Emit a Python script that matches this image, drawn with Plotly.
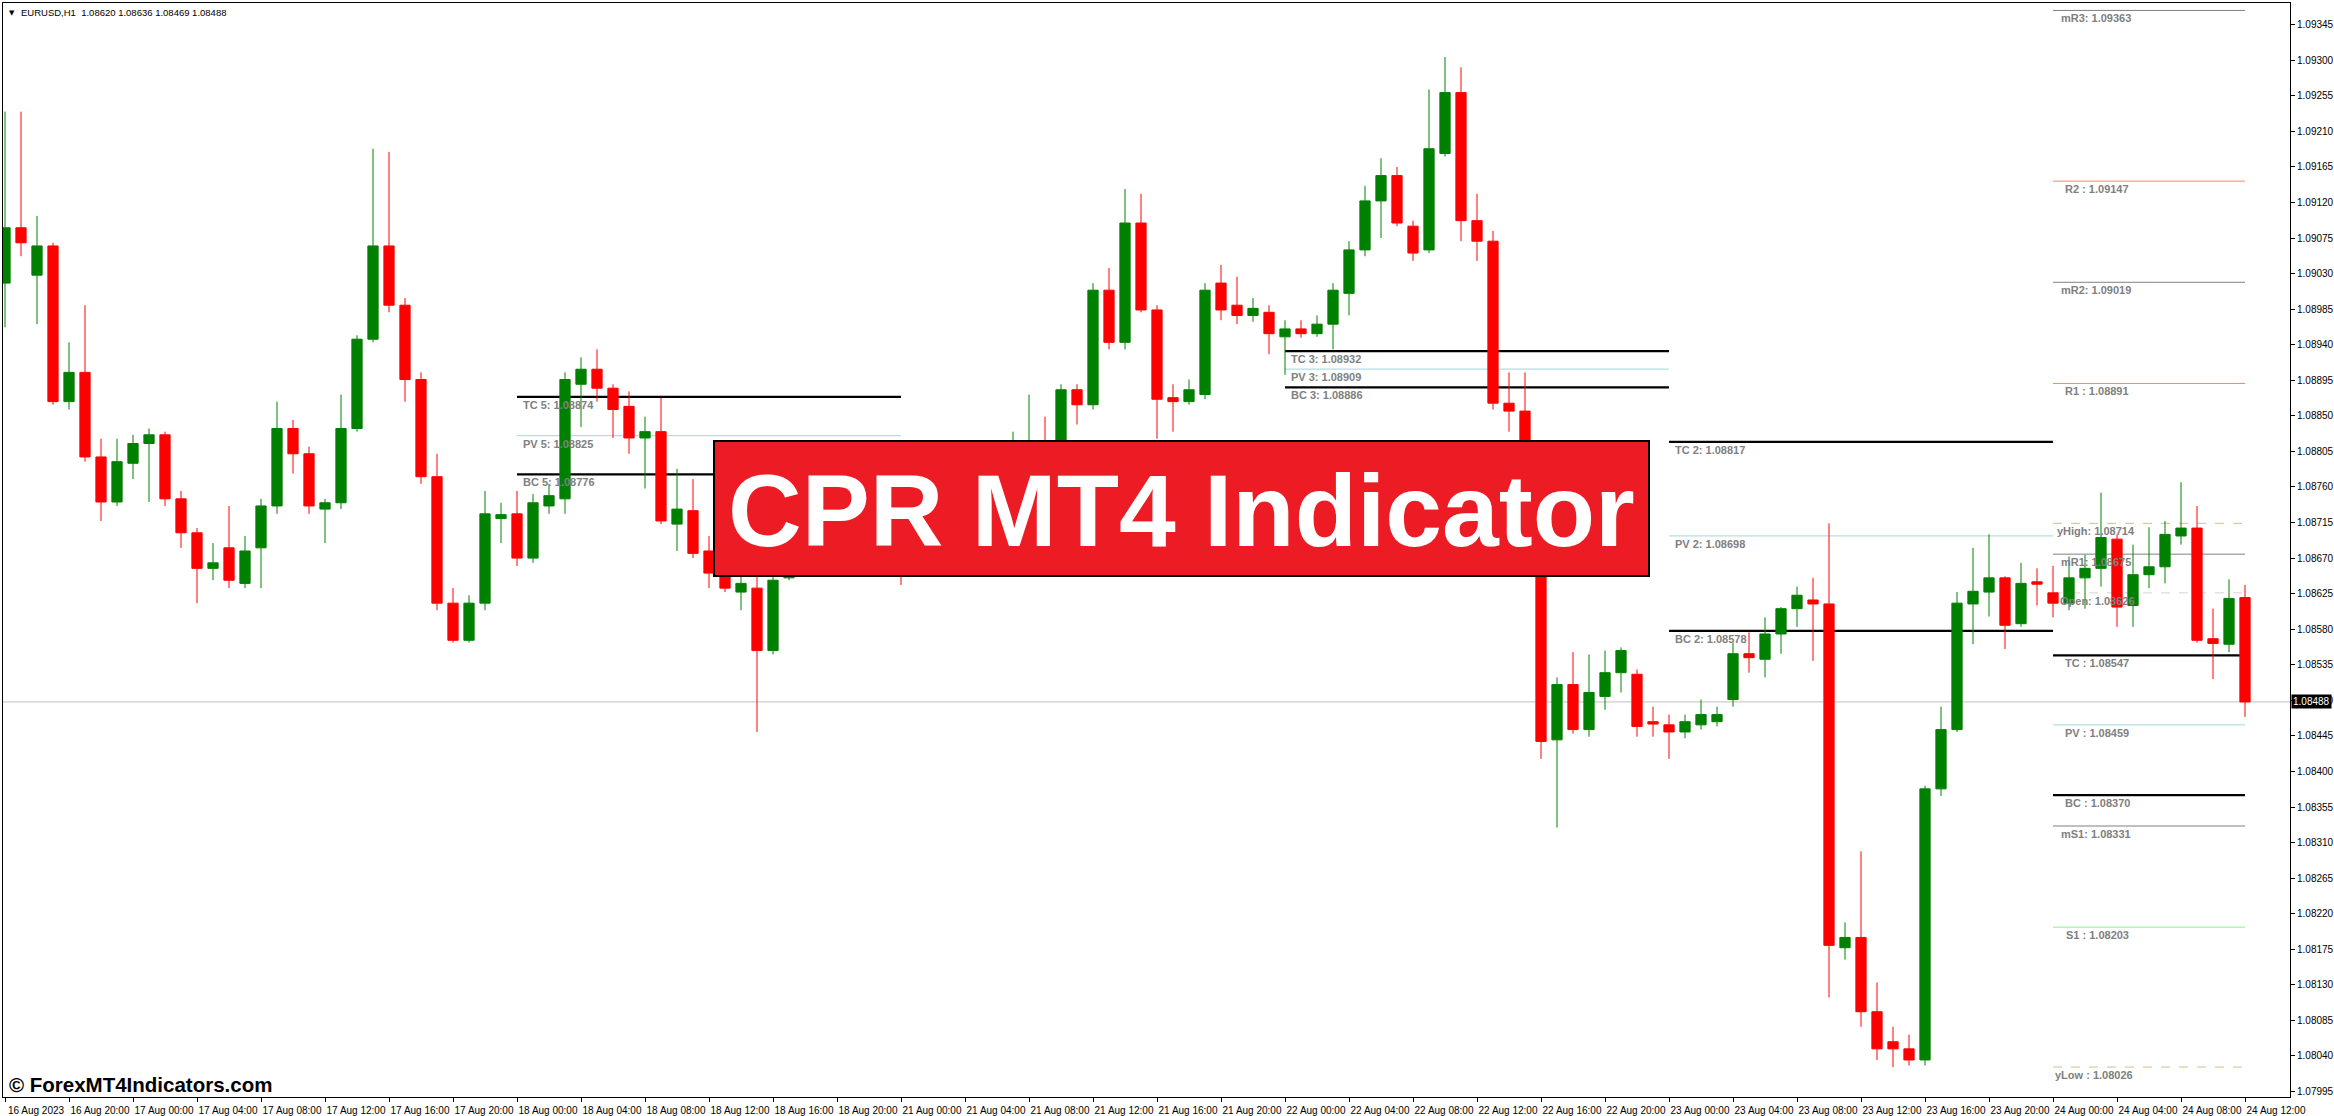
import plotly.graph_objects as go

# ---------------- data ----------------
symbol = "EURUSD,H1"

time_labels = ["16 Aug 2023", "16 Aug 20:00", "17 Aug 00:00", "17 Aug 04:00", "17 Aug 08:00",
               "17 Aug 12:00", "17 Aug 16:00", "17 Aug 20:00", "18 Aug 00:00", "18 Aug 04:00",
               "18 Aug 08:00", "18 Aug 12:00", "18 Aug 16:00", "18 Aug 20:00", "21 Aug 00:00",
               "21 Aug 04:00", "21 Aug 08:00", "21 Aug 12:00", "21 Aug 16:00", "21 Aug 20:00",
               "22 Aug 00:00", "22 Aug 04:00", "22 Aug 08:00", "22 Aug 12:00", "22 Aug 16:00",
               "22 Aug 20:00", "23 Aug 00:00", "23 Aug 04:00", "23 Aug 08:00", "23 Aug 12:00",
               "23 Aug 16:00", "23 Aug 20:00", "24 Aug 00:00", "24 Aug 04:00", "24 Aug 08:00",
               "24 Aug 12:00"]

opens = [
    1.09018, 1.09088, 1.09028, 1.09065, 1.08868, 1.08905, 1.08798, 1.08741, 1.08790, 1.08815,
    1.08826, 1.08745, 1.08702, 1.08657, 1.08683, 1.08638, 1.08683, 1.08736, 1.08834, 1.08802,
    1.08732, 1.08740, 1.08834, 1.08947, 1.09065, 1.08990, 1.08896, 1.08773, 1.08613, 1.08566,
    1.08613, 1.08720, 1.08726, 1.08670, 1.08736, 1.08745, 1.08890, 1.08909, 1.08885, 1.08862,
    1.08822, 1.08830, 1.08713, 1.08730, 1.08679, 1.08651, 1.08627, 1.08632, 1.08553, 1.08645,
    1.08689, 1.08717, 1.08698, 1.08736, 1.08726, 1.08755, 1.08740, 1.08708, 1.08726, 1.08755,
    1.08745, 1.08773, 1.08783, 1.08777, 1.08802, 1.08811, 1.08811, 1.08883, 1.08864, 1.09009,
    1.08943, 1.09094, 1.08984, 1.08873, 1.08868, 1.08877, 1.09018, 1.08990, 1.08977, 1.08981,
    1.08950, 1.08960, 1.08954, 1.08966, 1.09005, 1.09060, 1.09122, 1.09154, 1.09090, 1.09060,
    1.09182, 1.09259, 1.09097, 1.09071, 1.08866, 1.08856, 1.08755, 1.08440, 1.08510, 1.08453,
    1.08495, 1.08525, 1.08523, 1.08463, 1.08459, 1.08450, 1.08459, 1.08463, 1.08491, 1.08549,
    1.08542, 1.08574, 1.08606, 1.08617, 1.08612, 1.08177, 1.08190, 1.08096, 1.08058, 1.08049,
    1.08035, 1.08378, 1.08453, 1.08612, 1.08627, 1.08645, 1.08587, 1.08640, 1.08626, 1.08613,
    1.08645, 1.08657, 1.08694, 1.08610, 1.08649, 1.08659, 1.08698, 1.08708, 1.08568, 1.08561,
    1.08620]

highs = [
    1.09235, 1.09235, 1.09103, 1.09069, 1.08943, 1.08990, 1.08821, 1.08821, 1.08826, 1.08834,
    1.08830, 1.08755, 1.08708, 1.08689, 1.08736, 1.08698, 1.08745, 1.08868, 1.08845, 1.08811,
    1.08745, 1.08877, 1.08952, 1.09188, 1.09184, 1.08999, 1.08905, 1.08802, 1.08632, 1.08623,
    1.08755, 1.08740, 1.08755, 1.08751, 1.08764, 1.08905, 1.08924, 1.08934, 1.08890, 1.08881,
    1.08849, 1.08873, 1.08783, 1.08770, 1.08698, 1.08660, 1.08651, 1.08670, 1.08651, 1.08708,
    1.08736, 1.08745, 1.08755, 1.08764, 1.08777, 1.08773, 1.08755, 1.08745, 1.08773, 1.08783,
    1.08802, 1.08811, 1.08807, 1.08830, 1.08877, 1.08849, 1.08890, 1.08890, 1.09018, 1.09037,
    1.09137, 1.09131, 1.08990, 1.08890, 1.08896, 1.09018, 1.09041, 1.09026, 1.08999, 1.08990,
    1.08971, 1.08971, 1.08977, 1.09018, 1.09071, 1.09141, 1.09176, 1.09165, 1.09097, 1.09263,
    1.09304, 1.09291, 1.09131, 1.09084, 1.08905, 1.08905, 1.08773, 1.08519, 1.08551, 1.08548,
    1.08553, 1.08557, 1.08529, 1.08482, 1.08472, 1.08472, 1.08491, 1.08482, 1.08563, 1.08576,
    1.08595, 1.08608, 1.08634, 1.08645, 1.08714, 1.08209, 1.08299, 1.08133, 1.08077, 1.08067,
    1.08382, 1.08482, 1.08627, 1.08683, 1.08700, 1.08647, 1.08664, 1.08657, 1.08660, 1.08672,
    1.08674, 1.08753, 1.08700, 1.08687, 1.08709, 1.08717, 1.08766, 1.08736, 1.08606, 1.08643,
    1.08636]

lows = [
    1.08962, 1.09052, 1.08966, 1.08864, 1.08858, 1.08792, 1.08717, 1.08736, 1.08770, 1.08741,
    1.08736, 1.08683, 1.08613, 1.08642, 1.08632, 1.08632, 1.08632, 1.08726, 1.08777, 1.08726,
    1.08689, 1.08732, 1.08830, 1.08943, 1.08981, 1.08868, 1.08764, 1.08604, 1.08563, 1.08563,
    1.08604, 1.08689, 1.08660, 1.08664, 1.08726, 1.08726, 1.08836, 1.08868, 1.08822, 1.08802,
    1.08758, 1.08713, 1.08679, 1.08670, 1.08632, 1.08627, 1.08604, 1.08450, 1.08548, 1.08642,
    1.08676, 1.08683, 1.08689, 1.08708, 1.08717, 1.08726, 1.08636, 1.08698, 1.08717, 1.08726,
    1.08736, 1.08755, 1.08758, 1.08770, 1.08783, 1.08792, 1.08802, 1.08839, 1.08858, 1.08934,
    1.08934, 1.08981, 1.08821, 1.08830, 1.08864, 1.08871, 1.08971, 1.08966, 1.08969, 1.08928,
    1.08902, 1.08949, 1.08950, 1.08934, 1.08977, 1.09052, 1.09075, 1.09090, 1.09046, 1.09056,
    1.09178, 1.09071, 1.09046, 1.08858, 1.08830, 1.08745, 1.08416, 1.08329, 1.08448, 1.08444,
    1.08478, 1.08500, 1.08444, 1.08444, 1.08416, 1.08442, 1.08453, 1.08457, 1.08482, 1.08525,
    1.08519, 1.08549, 1.08583, 1.08540, 1.08114, 1.08162, 1.08077, 1.08035, 1.08026, 1.08028,
    1.08028, 1.08369, 1.08450, 1.08561, 1.08596, 1.08555, 1.08583, 1.08610, 1.08595, 1.08604,
    1.08606, 1.08634, 1.08583, 1.08583, 1.08632, 1.08638, 1.08687, 1.08563, 1.08517, 1.08551,
    1.08469]

closes = [
    1.09088, 1.09069, 1.09065, 1.08868, 1.08905, 1.08798, 1.08741, 1.08792, 1.08815, 1.08826,
    1.08745, 1.08702, 1.08657, 1.08664, 1.08642, 1.08679, 1.08736, 1.08834, 1.08802, 1.08736,
    1.08740, 1.08834, 1.08947, 1.09065, 1.08990, 1.08896, 1.08773, 1.08613, 1.08566, 1.08613,
    1.08726, 1.08725, 1.08670, 1.08740, 1.08749, 1.08896, 1.08909, 1.08885, 1.08858, 1.08822,
    1.08830, 1.08717, 1.08732, 1.08676, 1.08651, 1.08632, 1.08638, 1.08553, 1.08642, 1.08689,
    1.08717, 1.08698, 1.08736, 1.08726, 1.08755, 1.08736, 1.08708, 1.08726, 1.08755, 1.08745,
    1.08773, 1.08783, 1.08777, 1.08802, 1.08811, 1.08802, 1.08883, 1.08864, 1.09009, 1.08943,
    1.09094, 1.08984, 1.08871, 1.08868, 1.08883, 1.09009, 1.08984, 1.08977, 1.08986, 1.08954,
    1.08960, 1.08954, 1.08966, 1.09009, 1.09060, 1.09122, 1.09154, 1.09094, 1.09056, 1.09188,
    1.09259, 1.09097, 1.09071, 1.08866, 1.08856, 1.08755, 1.08438, 1.08510, 1.08453, 1.08500,
    1.08525, 1.08553, 1.08457, 1.08460, 1.08450, 1.08463, 1.08472, 1.08472, 1.08549, 1.08544,
    1.08574, 1.08606, 1.08623, 1.08612, 1.08180, 1.08190, 1.08096, 1.08049, 1.08049, 1.08035,
    1.08378, 1.08453, 1.08613, 1.08628, 1.08645, 1.08585, 1.08638, 1.08637, 1.08613, 1.08645,
    1.08657, 1.08696, 1.08608, 1.08649, 1.08659, 1.08700, 1.08708, 1.08566, 1.08562, 1.08619,
    1.08488]

# daily central pivot ranges (day tag, first bar, last bar)
cpr_tags = ["5", "3", "2", ""]
cpr_start = [32, 80, 104, 128]
cpr_end = [56, 104, 128, 140]
cpr_tc = [1.08874, 1.08932, 1.08817, 1.08547]
cpr_pv = [1.08825, 1.08909, 1.08698, 1.08459]
cpr_bc = [1.08776, 1.08886, 1.08578, 1.08370]

# other levels of the current day
lvl_names = ["mR3", "R2", "mR2", "R1", "yHigh", "mR1", "Open", "mS1", "S1", "yLow"]
lvl_prefix = ["mR3: ", "R2 : ", "mR2: ", "R1 : ", "yHigh: ", "mR1: ", "Open: ", "mS1: ", "S1 : ", "yLow : "]
lvl_values = [1.09363, 1.09147, 1.09019, 1.08891, 1.08714, 1.08675, 1.08626, 1.08331, 1.08203, 1.08026]

y_tick_start, y_tick_step, y_tick_count = 1.07995, 0.00045, 31

# ---------------- styles ----------------
W, H = 2334, 1116
ML, MR, MT, MB = 3, 44, 3, 19
PLOT_W = W - ML - MR
PLOT_H = H - MT - MB
BAR_PX = 16.0
X0_PX = 5.0  # centre of first bar, in page px
XR = [(ML - X0_PX) / BAR_PX, (W - MR - X0_PX) / BAR_PX]
YR = [1.079881, 1.093724]

AX_FONT = dict(family="Tahoma, 'Liberation Sans', Arial, sans-serif", size=10, color="black")
LBL_FONT = dict(family="'Liberation Sans', Arial, sans-serif", size=11, color="#808080", weight="bold")

lvl_style = {
    "mR3": dict(color="#808080", width=1, dash="solid", dx=6),
    "R2": dict(color="#fa8072", width=1, dash="solid", dx=10),
    "mR2": dict(color="#808080", width=1, dash="solid", dx=6),
    "R1": dict(color="#fa8072", width=1, dash="solid", dx=10),
    "yHigh": dict(color="#deb887", width=1, dash="dash", dx=2),
    "mR1": dict(color="#808080", width=1, dash="solid", dx=6),
    "Open": dict(color="#d3d3d3", width=1, dash="dash", dx=5),
    "mS1": dict(color="#808080", width=1, dash="solid", dx=6),
    "S1": dict(color="#90ee90", width=1, dash="solid", dx=11),
    "yLow": dict(color="#deb887", width=1, dash="dash", dx=0),
}

fig = go.Figure()

fig.add_trace(go.Candlestick(
    x=list(range(len(opens))), open=opens, high=highs, low=lows, close=closes,
    increasing=dict(line=dict(color="#008000", width=1), fillcolor="#008000"),
    decreasing=dict(line=dict(color="#ff0000", width=1), fillcolor="#ff0000"),
    whiskerwidth=0, showlegend=False, hoverinfo="skip",
))

shapes = []
annots = []

# current price line
shapes.append(dict(type="line", xref="paper", yref="y", x0=0, x1=1, y0=closes[-1], y1=closes[-1],
                   line=dict(color="#c0c0c0", width=1), layer="below"))

# CPR lines
for tag, s, e, tc, pv, bc in zip(cpr_tags, cpr_start, cpr_end, cpr_tc, cpr_pv, cpr_bc):
    for name, val in (("TC", tc), ("PV", pv), ("BC", bc)):
        if name == "PV":
            ln = dict(color="#b0e0e6", width=1.2)
        else:
            ln = dict(color="black", width=2.2)
        shapes.append(dict(type="line", xref="x", yref="y", x0=s, x1=e, y0=val, y1=val,
                           line=ln, layer="below"))
        if tag:
            txt = f"{name} {tag}: {val:.5f}"
            dx = 4
        else:
            txt = f"{name} : {val:.5f}"
            dx = 10
        annots.append(dict(xref="x", yref="y", x=s, y=val, xanchor="left", yanchor="top",
                           xshift=dx, yshift=0, text=txt, showarrow=False, font=LBL_FONT))

# current day extra levels
s0, e0 = cpr_start[-1], cpr_end[-1]
for name, pre, val in zip(lvl_names, lvl_prefix, lvl_values):
    st = lvl_style[name]
    shapes.append(dict(type="line", xref="x", yref="y", x0=s0, x1=e0, y0=val, y1=val,
                       line=dict(color=st["color"], width=st["width"], dash=st["dash"]), layer="below"))
    annots.append(dict(xref="x", yref="y", x=s0, y=val, xanchor="left", yanchor="top",
                       xshift=st["dx"], text=f"{pre}{val:.5f}", showarrow=False, font=LBL_FONT))

# current price box on the price scale
annots.append(dict(xref="paper", yref="y", x=1, y=closes[-1], xanchor="left", yanchor="middle",
                   xshift=1, text=f"{closes[-1]:.5f}", showarrow=False, bgcolor="black",
                   borderpad=1, font=dict(family=AX_FONT["family"], size=10, color="white")))

# title line (symbol + OHLC of last bar)
annots.append(dict(xref="paper", yref="paper", x=0, y=1, xanchor="left", yanchor="top",
                   xshift=4, yshift=-4, text="\u25BC", showarrow=False,
                   font=dict(family="'DejaVu Sans', sans-serif", size=7, color="black")))
annots.append(dict(xref="paper", yref="paper", x=0, y=1, xanchor="left", yanchor="top",
                   xshift=16, yshift=-2,
                   text=f"{symbol}  {opens[-1]:.5f} {highs[-1]:.5f} {lows[-1]:.5f} {closes[-1]:.5f}",
                   showarrow=False, font=dict(family=AX_FONT["family"], size=9.5, color="black")))

# watermark
annots.append(dict(xref="paper", yref="paper", x=0, y=0, xanchor="left", yanchor="middle",
                   xshift=4, yshift=13, text="\u00A9 ForexMT4Indicators.com", showarrow=False,
                   font=dict(family="'Liberation Sans', Arial, sans-serif", size=20.5, color="black",
                             weight="bold")))

# red banner
bx0, bx1, by0, by1 = 714, 1649, 441, 576  # page px
def px_to_paper_x(px):
    return (px - ML) / PLOT_W
def px_to_paper_y(py):
    return (H - MB - py) / PLOT_H
shapes.append(dict(type="rect", xref="paper", yref="paper",
                   x0=px_to_paper_x(bx0), x1=px_to_paper_x(bx1),
                   y0=px_to_paper_y(by1), y1=px_to_paper_y(by0),
                   fillcolor="#ed1c24", line=dict(color="black", width=2), layer="above"))
annots.append(dict(xref="paper", yref="paper",
                   x=px_to_paper_x((bx0 + bx1) / 2), y=px_to_paper_y((by0 + by1) / 2 + 2),
                   xanchor="center", yanchor="middle", text="CPR MT4 Indicator", showarrow=False,
                   font=dict(family="'Liberation Sans', Arial, sans-serif", size=102, color="white",
                             weight="bold")))

y_ticks = [round(y_tick_start + i * y_tick_step, 5) for i in range(y_tick_count)]

fig.update_layout(
    template="none",
    width=W, height=H,
    margin=dict(l=ML, r=MR, t=MT, b=MB, pad=0),
    paper_bgcolor="white", plot_bgcolor="white",
    showlegend=False,
    boxgap=0.36, boxgroupgap=0,
    shapes=shapes, annotations=annots,
    xaxis=dict(range=XR, showgrid=False, zeroline=False, showline=True, mirror=True,
               linecolor="black", linewidth=1, ticks="outside", ticklen=4, tickwidth=1,
               tickcolor="black", tickvals=list(range(0, len(opens), 4)), ticktext=time_labels,
               tickfont=AX_FONT, ticklabelshift=31, ticklabelstandoff=0,
               ticklabeloverflow="allow", automargin=False,
               rangeslider=dict(visible=False), fixedrange=True),
    yaxis=dict(range=YR, side="right", showgrid=False, zeroline=False, showline=True, mirror=True,
               linecolor="black", linewidth=1, ticks="outside", ticklen=4, tickwidth=1,
               tickcolor="black", tickvals=y_ticks, ticktext=[f"{v:.5f}" for v in y_ticks],
               tickfont=AX_FONT, automargin=False, fixedrange=True),
)

fig.write_html("out.html", include_plotlyjs=True, full_html=True,
               config={"displayModeBar": False, "staticPlot": True},
               post_script="document.body.style.margin='0';document.body.style.overflow='hidden';")
